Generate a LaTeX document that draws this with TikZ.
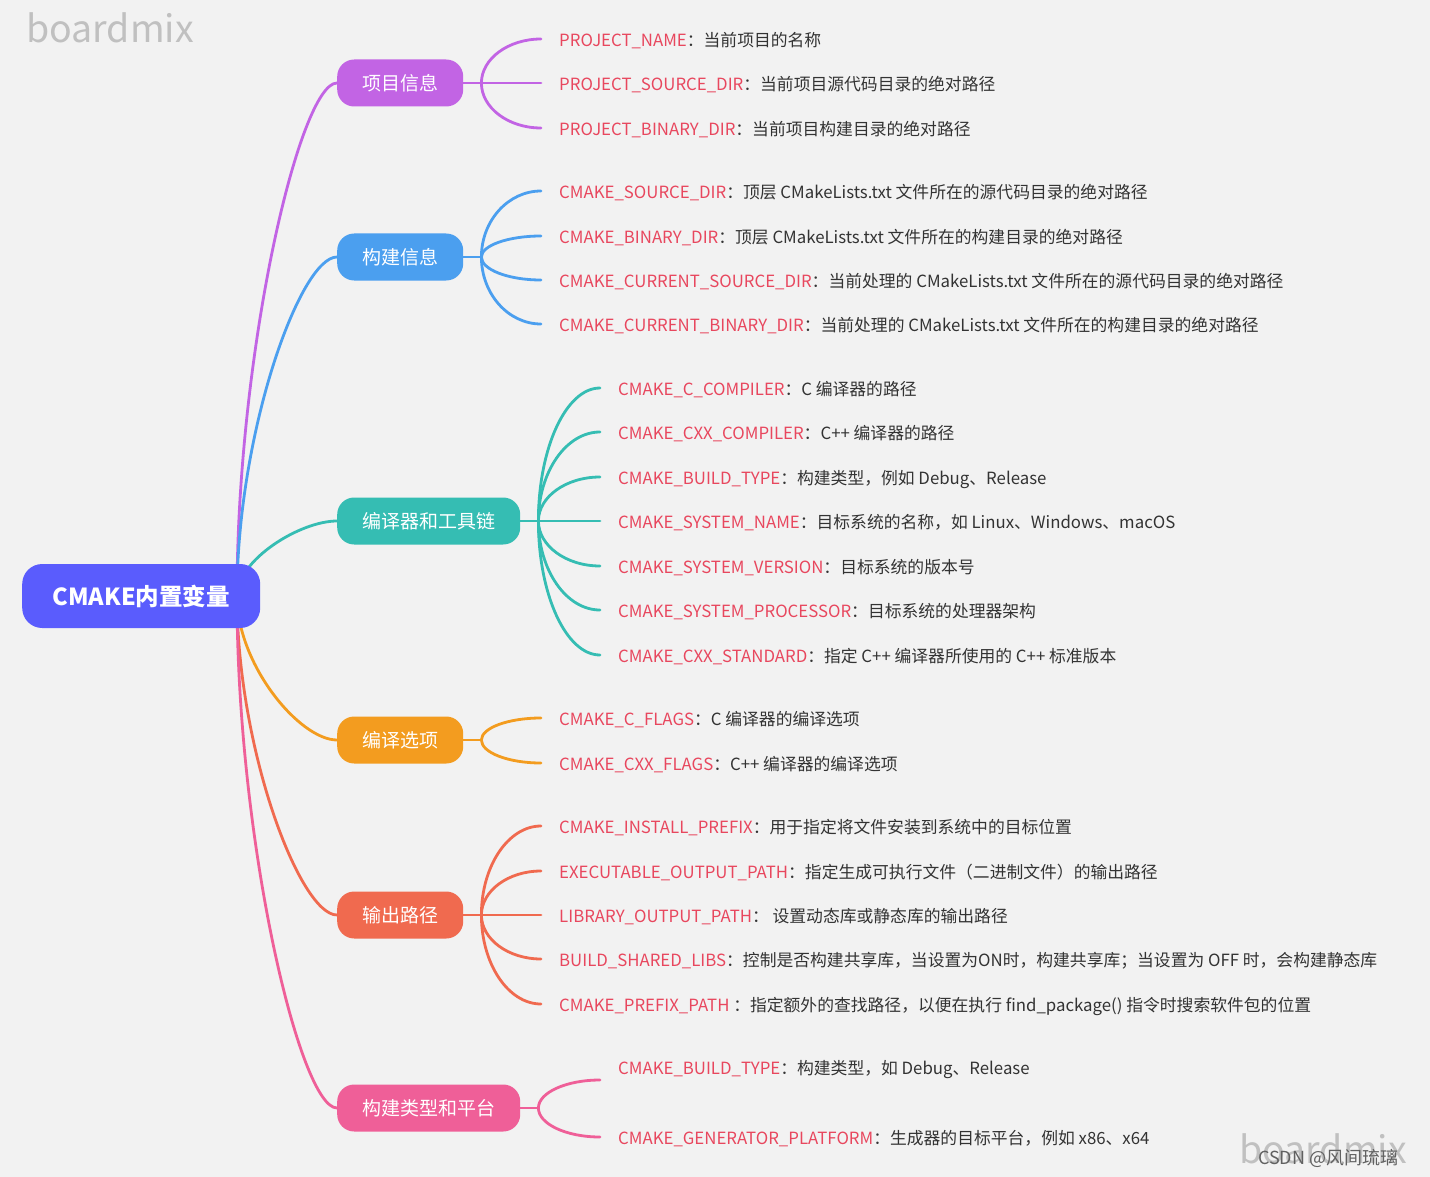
\documentclass[tikz,border=0pt]{standalone}
\usepackage{fontspec}
\setmainfont{Noto Sans CJK SC}
\usepackage{xcolor}
\usepackage{tikz}
\usetikzlibrary{calc}

\definecolor{bgcol}{HTML}{F2F2F2}
\definecolor{rootcol}{HTML}{5A5CFD}
\definecolor{cpurple}{HTML}{C264E4}
\definecolor{cblue}{HTML}{4B9FEF}
\definecolor{cteal}{HTML}{35BDB3}
\definecolor{corange}{HTML}{F39C1F}
\definecolor{ccoral}{HTML}{F06A4F}
\definecolor{cpink}{HTML}{EF5F98}
\definecolor{varred}{HTML}{E8475E}
\definecolor{txtcol}{HTML}{333333}
\definecolor{wmgray}{HTML}{C0C0C0}

\pgfdeclarelayer{back}
\pgfdeclarelayer{lines}
\pgfsetlayers{back,lines,main}

\newcommand{\vn}[1]{\textcolor{varred}{#1}}

\begin{document}
\begin{tikzpicture}[
    x=1pt, y=-1pt,
    rootbox/.style={rectangle, rounded corners=20pt, fill=rootcol, text=white,
                    minimum width=238pt, minimum height=64pt, inner sep=0pt,
                    font=\fontsize{23.5pt}{28pt}\selectfont\bfseries, anchor=west},
    topic/.style={rectangle, rounded corners=17pt, fill=#1, text=white,
                  minimum height=47pt, inner xsep=25pt, inner ysep=0pt,
                  font=\fontsize{19pt}{23pt}\selectfont, anchor=west},
    leaf/.style={anchor=west, inner xsep=18pt, inner ysep=0pt, text=txtcol,
                 text height=15pt, text depth=0pt,
                 font=\fontsize{16.8pt}{20pt}\selectfont},
    br/.style={draw=#1, line width=2.8pt, line cap=round},
    wm/.style={text=wmgray, font=\fontsize{37.5pt}{45pt}\selectfont, inner sep=0pt, anchor=base west},
]
\useasboundingbox (0,0) rectangle (1430,1177);
\begin{pgfonlayer}{back}
  \fill[bgcol] (0,0) rectangle (1430,1177);
\end{pgfonlayer}

%% Wasserzeichen
\node[wm] (wm1) at (26,43) {boardmix};
\node[wm] (wm2) at (1239,1163) {boardmix};
\node[anchor=base west, inner sep=0pt, text=black!62,
      font=\fontsize{18pt}{21pt}\selectfont] (csdn) at (1258,1164) {CSDN @风间琉璃};

%% Wurzel und Themen
\node[rootbox] (root) at (22,596) {CMAKE内置变量};
\coordinate (rootout) at (237,596);

\node[topic=cpurple] (proj)  at (337,83)   {项目信息};
\node[topic=cblue]   (build) at (337,257)  {构建信息};
\node[topic=cteal]   (comp)  at (337,521)  {编译器和工具链};
\node[topic=corange] (flag)  at (337,740)  {编译选项};
\node[topic=ccoral]  (out)   at (337,915)  {输出路径};
\node[topic=cpink]   (plat)  at (337,1108) {构建类型和平台};

%% 项目信息
\node[leaf] (p1) at (541,39)  {\vn{PROJECT\_NAME}：当前项目的名称};
\node[leaf] (p2) at (541,83)  {\vn{PROJECT\_SOURCE\_DIR}：当前项目源代码目录的绝对路径};
\node[leaf] (p3) at (541,128) {\vn{PROJECT\_BINARY\_DIR}：当前项目构建目录的绝对路径};

%% 构建信息
\node[leaf] (b1) at (541,191) {\vn{CMAKE\_SOURCE\_DIR}：顶层 CMakeLists.txt 文件所在的源代码目录的绝对路径};
\node[leaf] (b2) at (541,236) {\vn{CMAKE\_BINARY\_DIR}：顶层 CMakeLists.txt 文件所在的构建目录的绝对路径};
\node[leaf] (b3) at (541,280) {\vn{CMAKE\_CURRENT\_SOURCE\_DIR}：当前处理的 CMakeLists.txt 文件所在的源代码目录的绝对路径};
\node[leaf] (b4) at (541,324) {\vn{CMAKE\_CURRENT\_BINARY\_DIR}：当前处理的 CMakeLists.txt 文件所在的构建目录的绝对路径};

%% 编译器和工具链
\node[leaf] (c1) at (600,388) {\vn{CMAKE\_C\_COMPILER}：C 编译器的路径};
\node[leaf] (c2) at (600,432) {\vn{CMAKE\_CXX\_COMPILER}：C++ 编译器的路径};
\node[leaf] (c3) at (600,477) {\vn{CMAKE\_BUILD\_TYPE}：构建类型，例如 Debug、Release};
\node[leaf] (c4) at (600,521) {\vn{CMAKE\_SYSTEM\_NAME}：目标系统的名称，如 Linux、Windows、macOS};
\node[leaf] (c5) at (600,566) {\vn{CMAKE\_SYSTEM\_VERSION}：目标系统的版本号};
\node[leaf] (c6) at (600,610) {\vn{CMAKE\_SYSTEM\_PROCESSOR}：目标系统的处理器架构};
\node[leaf] (c7) at (600,655) {\vn{CMAKE\_CXX\_STANDARD}：指定 C++ 编译器所使用的 C++ 标准版本};

%% 编译选项
\node[leaf] (f1) at (541,718) {\vn{CMAKE\_C\_FLAGS}：C 编译器的编译选项};
\node[leaf] (f2) at (541,763) {\vn{CMAKE\_CXX\_FLAGS}：C++ 编译器的编译选项};

%% 输出路径
\node[leaf] (o1) at (541,826)  {\vn{CMAKE\_INSTALL\_PREFIX}：用于指定将文件安装到系统中的目标位置};
\node[leaf] (o2) at (541,871)  {\vn{EXECUTABLE\_OUTPUT\_PATH}：指定生成可执行文件（二进制文件）的输出路径};
\node[leaf] (o3) at (541,915)  {\vn{LIBRARY\_OUTPUT\_PATH}： 设置动态库或静态库的输出路径};
\node[leaf] (o4) at (541,959)  {\vn{BUILD\_SHARED\_LIBS}：控制是否构建共享库，当设置为ON时，构建共享库；当设置为 OFF 时，会构建静态库};
\node[leaf] (o5) at (541,1004) {\vn{CMAKE\_PREFIX\_PATH} ：指定额外的查找路径，以便在执行 find\_package() 指令时搜索软件包的位置};

%% 构建类型和平台
\node[leaf] (t1) at (600,1067) {\vn{CMAKE\_BUILD\_TYPE}：构建类型，如 Debug、Release};
\node[leaf] (t2) at (600,1137) {\vn{CMAKE\_GENERATOR\_PLATFORM}：生成器的目标平台，例如 x86、x64};
\coordinate (t1-in) at ([yshift=-13pt]t1.west);

\begin{pgfonlayer}{lines}
%% Wurzel -> Themen
\foreach \t/\c in {proj/cpurple, build/cblue, comp/cteal, flag/corange, out/ccoral, plat/cpink}
  \draw[br=\c] (rootout) .. controls ($(rootout)!0.48!(rootout|-\t.west)$)
                           and ($(\t.west)+(-37,0)$) .. (\t.west);

%% Themen -> Blaetter
\foreach \t/\c in {proj/cpurple, build/cblue, comp/cteal, flag/corange, out/ccoral, plat/cpink} {
  \coordinate (\t-j) at ($(\t.east)+(18,0)$);
  \draw[br=\c] (\t.east) -- (\t-j);
}
\foreach \t/\c/\l in {proj/cpurple/p1, proj/cpurple/p2, proj/cpurple/p3,
                      build/cblue/b1, build/cblue/b2, build/cblue/b3, build/cblue/b4,
                      comp/cteal/c1, comp/cteal/c2, comp/cteal/c3, comp/cteal/c4,
                      comp/cteal/c5, comp/cteal/c6, comp/cteal/c7,
                      flag/corange/f1, flag/corange/f2,
                      out/ccoral/o1, out/ccoral/o2, out/ccoral/o3, out/ccoral/o4, out/ccoral/o5,
                      plat/cpink/t1-in, plat/cpink/t2}
  \draw[br=\c] (\t-j) .. controls ($(\t-j)!0.55!(\t-j |- \l.west)$)
                        and ($(\l.west)!0.55!(\t-j |- \l.west)$) .. (\l.west);
\end{pgfonlayer}

\end{tikzpicture}
\end{document}
